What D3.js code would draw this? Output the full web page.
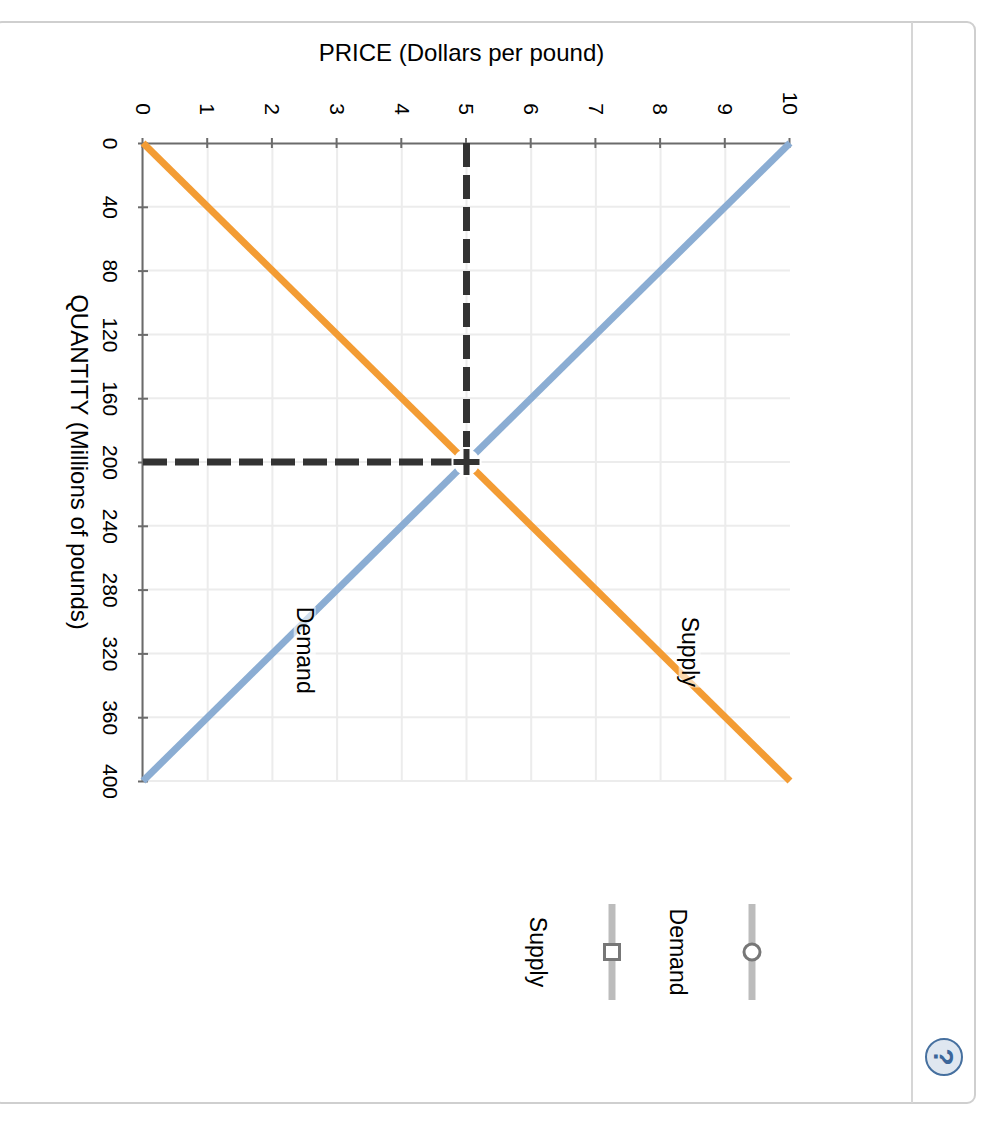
<!DOCTYPE html>
<html>
<head>
<meta charset="utf-8">
<script src="https://cdn.jsdelivr.net/npm/d3@7"></script>
<style>
  body { margin: 0; background: #fff; }
  text { font-family: "Liberation Sans", Arial, sans-serif; fill: #000; }
</style>
</head>
<body>
<div class="chart"></div>
<script>
// chart values
var quantityTicks = [0, 40, 80, 120, 160, 200, 240, 280, 320, 360, 400];
var priceTicks = [0, 1, 2, 3, 4, 5, 6, 7, 8, 9, 10];
var supplyQty = [0, 400];
var supplyPrice = [0, 10];
var demandQty = [0, 400];
var demandPrice = [10, 0];
var eqQty = 200;
var eqPrice = 5;
var legendNames = ["Demand", "Supply"];

var svgWidth = 999, svgHeight = 1131;

// plot size before turning (quantity runs along, price up)
var width = 638, height = 647;

var svg = d3.select(".chart")
  .append("svg")
  .attr("width", svgWidth)
  .attr("height", svgHeight);

// panel frame
svg.append("rect")
  .attr("x", -6).attr("y", 22)
  .attr("width", 981).attr("height", 1081)
  .attr("rx", 8)
  .attr("fill", "none")
  .attr("stroke", "#cfcfcf")
  .attr("stroke-width", 2);
svg.append("line")
  .attr("x1", 912).attr("x2", 912)
  .attr("y1", 22).attr("y2", 1103)
  .attr("stroke", "#d6d6d6")
  .attr("stroke-width", 2);

// help button
var help = svg.append("g").attr("transform", "translate(944,1057)");
help.append("circle")
  .attr("r", 18)
  .attr("fill", "#dfe7f0")
  .attr("stroke", "#46709f")
  .attr("stroke-width", 2);
help.append("text")
  .attr("transform", "rotate(90)")
  .attr("text-anchor", "middle")
  .attr("dy", "0.36em")
  .attr("font-size", 28)
  .attr("font-weight", "bold")
  .style("fill", "#3b669a")
  .text("?");

// the whole graph is turned a quarter clockwise
var chart = svg.append("g")
  .attr("transform", "translate(790,143) rotate(90)");

var x = d3.scaleLinear().domain([0, 400]).range([0, width]);
var y = d3.scaleLinear().domain([0, 10]).range([height, 0]);

// grid
chart.append("g").selectAll("line")
  .data(quantityTicks.slice(1))
  .enter().append("line")
  .attr("x1", function(d) { return x(d); })
  .attr("x2", function(d) { return x(d); })
  .attr("y1", 0).attr("y2", height)
  .attr("stroke", "#ececec")
  .attr("stroke-width", 2);
chart.append("g").selectAll("line")
  .data(priceTicks.slice(0, -1))
  .enter().append("line")
  .attr("x1", 0).attr("x2", width)
  .attr("y1", function(d) { return y(d); })
  .attr("y2", function(d) { return y(d); })
  .attr("stroke", "#ececec")
  .attr("stroke-width", 2);

// axes
var bottomAxis = d3.axisBottom(x).tickValues(quantityTicks).tickSizeInner(5).tickSizeOuter(0).tickPadding(20);
var leftAxis = d3.axisLeft(y).tickValues(priceTicks).tickSizeInner(5).tickSizeOuter(0).tickPadding(23);

var gx = chart.append("g")
  .attr("transform", "translate(0," + height + ")")
  .call(bottomAxis);
var gy = chart.append("g").call(leftAxis);

[gx, gy].forEach(function(g) {
  g.select(".domain").attr("stroke", "#6b6b6b").attr("stroke-width", 2);
  g.selectAll(".tick line").attr("stroke", "#6b6b6b").attr("stroke-width", 2);
  g.selectAll(".tick text")
    .attr("font-family", "Liberation Sans, Arial, sans-serif")
    .attr("font-size", 21)
    .attr("fill", "#000");
});
gx.selectAll(".tick line").attr("y1", -5);
gy.selectAll(".tick line").attr("x1", 5);

// axis titles
chart.append("text")
  .attr("x", width / 2)
  .attr("y", height + 72)
  .attr("text-anchor", "middle")
  .attr("font-size", 24)
  .text("QUANTITY (Millions of pounds)");

chart.append("text")
  .attr("transform", "translate(-82," + (height / 2 + 5) + ") rotate(-90)")
  .attr("text-anchor", "middle")
  .attr("font-size", 24)
  .text("PRICE (Dollars per pound)");

// gap in the curves round the equilibrium
var defs = svg.append("defs");
var mask = defs.append("mask")
  .attr("id", "eqgap")
  .attr("maskUnits", "userSpaceOnUse")
  .attr("x", -50).attr("y", -50)
  .attr("width", width + 100).attr("height", height + 100);
mask.append("rect")
  .attr("x", -50).attr("y", -50)
  .attr("width", width + 100).attr("height", height + 100)
  .attr("fill", "#fff");
mask.append("circle")
  .attr("cx", x(eqQty)).attr("cy", y(eqPrice))
  .attr("r", 13)
  .attr("fill", "#000");

var line = d3.line()
  .x(function(d) { return x(d[0]); })
  .y(function(d) { return y(d[1]); });

var curves = chart.append("g").attr("mask", "url(#eqgap)");
curves.append("path")
  .datum(d3.zip(demandQty, demandPrice))
  .attr("d", line)
  .attr("fill", "none")
  .attr("stroke", "#8badd3")
  .attr("stroke-width", 7);
curves.append("path")
  .datum(d3.zip(supplyQty, supplyPrice))
  .attr("d", line)
  .attr("fill", "none")
  .attr("stroke", "#f39c34")
  .attr("stroke-width", 7);

// curve labels with a faint white box
function curveLabel(txt, q, p) {
  var g = chart.append("g").attr("transform", "translate(" + x(q) + "," + y(p) + ")");
  var t = g.append("text")
    .attr("text-anchor", "middle")
    .attr("dy", "0.35em")
    .attr("font-size", 23)
    .text(txt);
  var b = t.node().getBBox();
  g.insert("rect", "text")
    .attr("x", b.x).attr("y", b.y + 2)
    .attr("width", b.width).attr("height", b.height - 4)
    .attr("fill", "#fff")
    .attr("opacity", 0.6);
}
curveLabel("Demand", 318, 2.5);
curveLabel("Supply", 319, 8.45);

// dashed guides to the equilibrium
chart.append("line")
  .attr("x1", x(eqQty)).attr("x2", x(eqQty))
  .attr("y1", y(0)).attr("y2", y(eqPrice))
  .attr("stroke", "#333")
  .attr("stroke-width", 7)
  .attr("stroke-dasharray", "24,8");
chart.append("line")
  .attr("x1", x(0)).attr("x2", x(eqQty))
  .attr("y1", y(eqPrice)).attr("y2", y(eqPrice))
  .attr("stroke", "#333")
  .attr("stroke-width", 7)
  .attr("stroke-dasharray", "24,8");

// cross marker
var arm = 14, half = 4;
chart.append("path")
  .attr("transform", "translate(" + x(eqQty) + "," + y(eqPrice) + ")")
  .attr("d", "M" + (-arm) + "," + (-half) + "H" + (-half) + "V" + (-arm) + "H" + half + "V" + (-half) +
    "H" + arm + "V" + half + "H" + half + "V" + arm + "H" + (-half) + "V" + half + "H" + (-arm) + "Z")
  .attr("fill", "#333")
  .attr("stroke", "#fff")
  .attr("stroke-width", 2);

// legend (drawn in the turned frame too)
var legend = chart.append("g").attr("transform", "translate(" + 809 + ",0)");
legendNames.forEach(function(name, i) {
  var ly = 38 + i * 140;
  var item = legend.append("g").attr("transform", "translate(0," + ly + ")");
  item.append("line")
    .attr("x1", -48).attr("x2", 48)
    .attr("stroke", "#bcbcbc")
    .attr("stroke-width", 7);
  if (name === "Demand") {
    item.append("circle")
      .attr("r", 8)
      .attr("fill", "#fff")
      .attr("stroke", "#777")
      .attr("stroke-width", 3);
  } else {
    item.append("rect")
      .attr("x", -7.5).attr("y", -7.5)
      .attr("width", 15).attr("height", 15)
      .attr("fill", "#fff")
      .attr("stroke", "#777")
      .attr("stroke-width", 3);
  }
  item.append("text")
    .attr("y", 74)
    .attr("text-anchor", "middle")
    .attr("dy", "0.35em")
    .attr("font-size", 23)
    .text(name);
});
</script>
</body>
</html>
